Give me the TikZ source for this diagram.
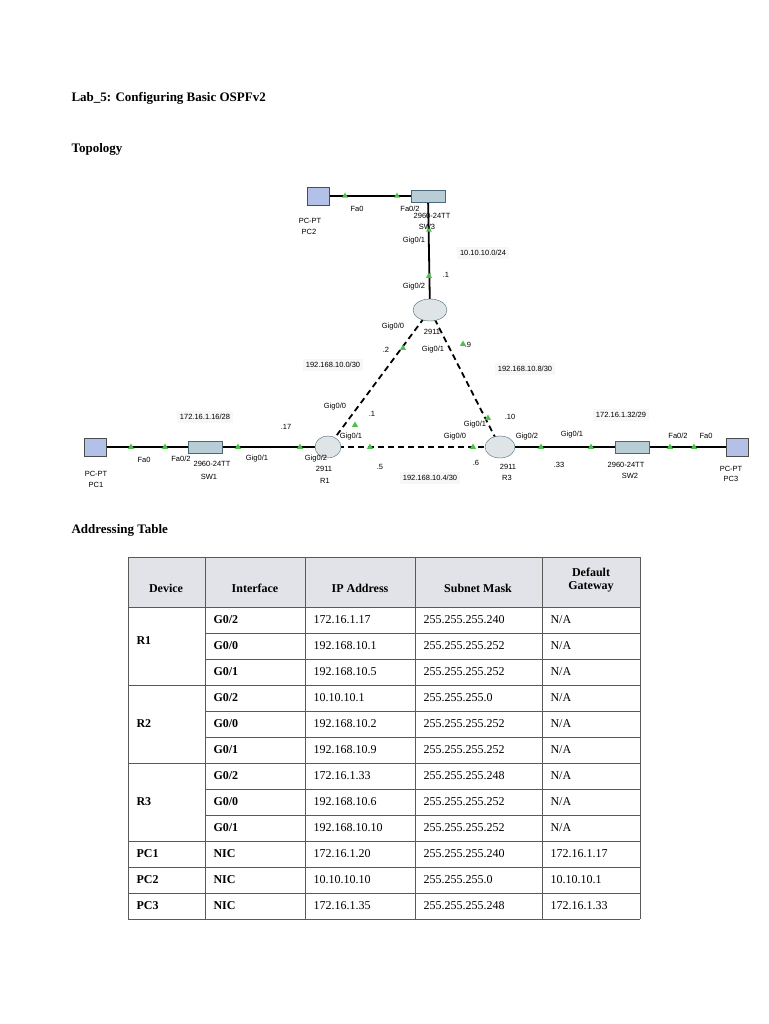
\documentclass[tikz,border=0pt]{standalone}
\usepackage{fontspec}
\setmainfont{Liberation Serif}
\newfontfamily\lblfont{Liberation Sans}
\usetikzlibrary{calc, shapes}

\tikzset{
  lbl/.style={font=\lblfont\fontsize{7.5}{8}\selectfont, inner sep=1pt},
  netbox/.style={lbl, fill=gray!6, inner sep=3pt},
  port/.style={regular polygon, regular polygon sides=3, fill=green!65!black!70, inner sep=0pt, minimum size=7pt},
  link/.style={line width=1.8pt},
  wan/.style={line width=1.8pt, dash pattern=on 6pt off 4pt},
  swbox/.style={draw=cyan!40!black, fill=cyan!30!gray!50, minimum width=34pt, minimum height=12pt, inner sep=0pt},
  rtr/.style={ellipse, draw=cyan!40!black, fill=cyan!15!gray!25, minimum width=34pt, minimum height=22pt, inner sep=0pt},
  pcbox/.style={draw=gray!60!black, fill=cyan!40!blue!30, minimum width=22pt, minimum height=18pt, inner sep=0pt},
  cell/.style={font=\fontsize{12}{13}\selectfont, anchor=west},
  bcell/.style={cell, font=\bfseries\fontsize{12}{13}\selectfont},
  hcell/.style={font=\bfseries\fontsize{12}{13}\selectfont, align=center}
}

\begin{document}
\begin{tikzpicture}[x=1pt, y=-1pt]
	\useasboundingbox[fill=white] (0,0) rectangle (768,1024);
	\node[anchor=west, font=\bfseries\fontsize{13}{14}\selectfont] (title) at (68,98) {Lab\_5: Configuring Basic OSPFv2};
	\node[anchor=west, font=\bfseries\fontsize{13}{14}\selectfont] (topo) at (68,149) {Topology};
	\node[anchor=west, font=\bfseries\fontsize{13}{14}\selectfont] (addr) at (68,530) {Addressing Table};

	% device positions
	\coordinate (cPC2) at (318,196);
	\coordinate (cSW3) at (428,196);
	\coordinate (cR2) at (430,310);
	\coordinate (cR1) at (328,447);
	\coordinate (cR3) at (500,447);
	\coordinate (cSW1) at (205,447);
	\coordinate (cSW2) at (632,447);
	\coordinate (cPC1) at (95,447);
	\coordinate (cPC3) at (737,447);

	% links
	\draw[link] (cPC2) -- (cSW3);
	\draw[link] (cSW3) -- (cR2);
	\draw[wan] (cR2) -- (cR1);
	\draw[wan] (cR2) -- (cR3);
	\draw[wan] (cR1) -- (cR3);
	\draw[link] (cSW1) -- (cR1);
	\draw[link] (cPC1) -- (cSW1);
	\draw[link] (cR3) -- (cSW2);
	\draw[link] (cSW2) -- (cPC3);

	% devices
	\node (PC2) at (cPC2) [pcbox] {};
	\node (SW3) at (cSW3) [swbox] {};
	\node (R2) at (cR2) [rtr] {};
	\node (R1) at (cR1) [rtr, minimum width=26pt] {};
	\node (R3) at (cR3) [rtr, minimum width=30pt] {};
	\node (SW1) at (cSW1) [swbox] {};
	\node (SW2) at (cSW2) [swbox] {};
	\node (PC1) at (cPC1) [pcbox] {};
	\node (PC3) at (cPC3) [pcbox] {};

	% ports
	\foreach \p in {(345,196),(397,196),(429,230),(429,276),(403,348),(355,425),
	  (463,344),(488,418),(370,447),(473,447),(238,447),(300,447),(131,447),
	  (165,447),(541,447),(591,447),(670,447),(694,447)}
	  \node[port] at \p {};

	% labels
	\node[lbl] (lPC2a) at (310,221) {PC-PT};
	\node[lbl] (lPC2b) at (309,232) {PC2};
	\node[lbl] (lFa0a) at (357,209) {Fa0};
	\node[lbl] (lFa2a) at (410,209) {Fa0/2};
	\node[lbl] (lSW3a) at (432,216) {2960-24TT};
	\node[lbl] (lSW3b) at (427,227) {SW3};
	\node[lbl] (lG1a) at (414,241) {Gig0/1};
	\node[netbox] (n1) at (483,253) {10.10.10.0/24};
	\node[lbl] (d1) at (446,275) {.1};
	\node[lbl] (lG2a) at (414,287) {Gig0/2};
	\node[lbl] (lR2) at (432,332) {2911};
	\node[lbl] (lG0a) at (393,327) {Gig0/0};
	\node[lbl] (d2) at (386,350) {.2};
	\node[lbl] (lG1b) at (433,350) {Gig0/1};
	\node[lbl] (d9) at (468,345) {.9};
	\node[netbox] (n2) at (333,365) {192.168.10.0/30};
	\node[netbox] (n3) at (525,369) {192.168.10.8/30};
	\node[lbl] (lG0b) at (335,407) {Gig0/0};
	\node[lbl] (d1b) at (372,414) {.1};
	\node[lbl] (d10) at (510,417) {.10};
	\node[netbox] (n4) at (205,417) {172.16.1.16/28};
	\node[lbl] (d17) at (286,427) {.17};
	\node[netbox] (n5) at (621,415) {172.16.1.32/29};
	\node[lbl] (lG1c) at (475,425) {Gig0/1};
	\node[lbl] (lG1d) at (351,437) {Gig0/1};
	\node[lbl] (lG0c) at (455,437) {Gig0/0};
	\node[lbl] (lG2b) at (527,437) {Gig0/2};
	\node[lbl] (lG1e) at (572,435) {Gig0/1};
	\node[lbl] (lFa2b) at (678,436) {Fa0/2};
	\node[lbl] (lFa0b) at (706,436) {Fa0};
	\node[lbl] (lFa0c) at (144,460) {Fa0};
	\node[lbl] (lFa2c) at (181,459) {Fa0/2};
	\node[lbl] (lG1f) at (257,459) {Gig0/1};
	\node[lbl] (lG2c) at (316,459) {Gig0/2};
	\node[lbl] (lR1a) at (324,469) {2911};
	\node[lbl] (lR1b) at (325,481) {R1};
	\node[lbl] (d5) at (380,467) {.5};
	\node[netbox] (n6) at (430,478) {192.168.10.4/30};
	\node[lbl] (d6) at (476,463) {.6};
	\node[lbl] (lR3a) at (508,467) {2911};
	\node[lbl] (lR3b) at (507,478) {R3};
	\node[lbl] (d33) at (559,465) {.33};
	\node[lbl] (lSW2a) at (626,465) {2960-24TT};
	\node[lbl] (lSW2b) at (630,476) {SW2};
	\node[lbl] (lPC3a) at (731,469) {PC-PT};
	\node[lbl] (lPC3b) at (731,479) {PC3};
	\node[lbl] (lPC1a) at (96,474) {PC-PT};
	\node[lbl] (lPC1b) at (96,485) {PC1};
	\node[lbl] (lSW1a) at (212,464) {2960-24TT};
	\node[lbl] (lSW1b) at (209,477) {SW1};

	% table
	\fill[blue!15!gray!20] (128,557) rectangle (640,607);
	\foreach \y in {607,633,659,685,711,737,763,789,815,841,867,893,919}
	  \draw[gray!70!black] (205,\y) -- (640,\y);
	\foreach \y in {557,607,685,763,841,867,893,919}
	  \draw[gray!70!black] (128,\y) -- (205,\y);
	\foreach \x in {128,205,305,415,542,640}
	  \draw[gray!70!black] (\x,557) -- (\x,919);
	\draw[gray!70!black] (128,557) -- (640,557);
	\node[hcell] (hD) at (166,588) {Device};
	\node[hcell] (hI) at (255,588) {Interface};
	\node[hcell] (hA) at (360,588) {IP Address};
	\node[hcell] (hS) at (478,588) {Subnet Mask};
	\node[hcell] (hG) at (591,580) {Default\\Gateway};
	\node[bcell] (dR1) at (133,641) {R1};
	\node[bcell] (dR2) at (133,724) {R2};
	\node[bcell] (dR3) at (133,802) {R3};
	\node[bcell] (dPC1) at (133,854) {PC1};
	\node[bcell] (dPC2) at (133,880) {PC2};
	\node[bcell] (dPC3) at (133,906) {PC3};
	\foreach \y/\i/\a/\m/\g in {
	  620/G0\slash 2/172.16.1.17/255.255.255.240/N\slash A,
	  646/G0\slash 0/192.168.10.1/255.255.255.252/N\slash A,
	  672/G0\slash 1/192.168.10.5/255.255.255.252/N\slash A,
	  698/G0\slash 2/10.10.10.1/255.255.255.0/N\slash A,
	  724/G0\slash 0/192.168.10.2/255.255.255.252/N\slash A,
	  750/G0\slash 1/192.168.10.9/255.255.255.252/N\slash A,
	  776/G0\slash 2/172.16.1.33/255.255.255.248/N\slash A,
	  802/G0\slash 0/192.168.10.6/255.255.255.252/N\slash A,
	  828/G0\slash 1/192.168.10.10/255.255.255.252/N\slash A}{
	  \node[bcell] at (210,\y) {\i};
	  \node[cell] at (310,\y) {\a};
	  \node[cell] at (420,\y) {\m};
	  \node[cell] at (547,\y) {\g};
	}
	\foreach \y/\a/\m/\g in {854/172.16.1.20/255.255.255.240/172.16.1.17,
	  880/10.10.10.10/255.255.255.0/10.10.10.1,
	  906/172.16.1.35/255.255.255.248/172.16.1.33}{
	  \node[bcell] at (210,\y) {NIC};
	  \node[cell] at (310,\y) {\a};
	  \node[cell] at (420,\y) {\m};
	  \node[cell] at (547,\y) {\g};
	}
\end{tikzpicture}
\end{document}
